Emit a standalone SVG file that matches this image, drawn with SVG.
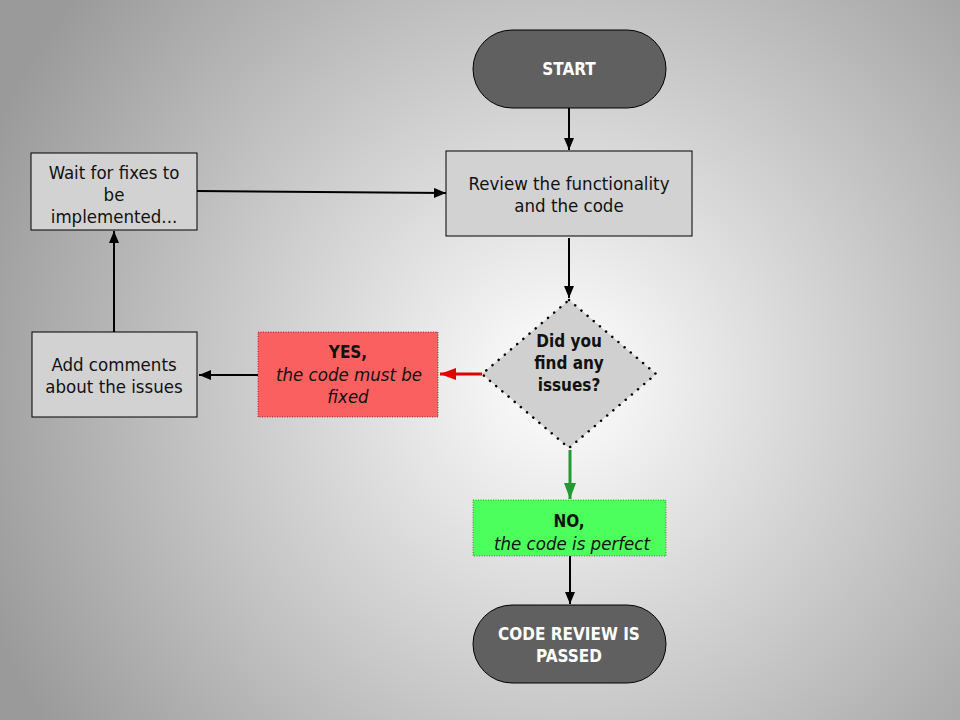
<svg xmlns="http://www.w3.org/2000/svg" width="960" height="720" viewBox="0 0 960 720">
<defs>
<radialGradient id="bg" cx="560" cy="380" r="620" gradientUnits="userSpaceOnUse">
<stop offset="0" stop-color="#ffffff"/>
<stop offset="1" stop-color="#9a9a9a"/>
</radialGradient>
<marker id="ah" viewBox="0 0 12 10" refX="12" refY="5" markerWidth="12" markerHeight="10" markerUnits="userSpaceOnUse" orient="auto"><path d="M0,0 L12,5 L0,10 z" fill="#000"/></marker>
<marker id="ahr" viewBox="0 0 16 12" refX="16" refY="6" markerWidth="16" markerHeight="12" markerUnits="userSpaceOnUse" orient="auto"><path d="M0,0 L16,6 L0,12 z" fill="#e00000"/></marker>
<marker id="ahg" viewBox="0 0 16 12" refX="16" refY="6" markerWidth="16" markerHeight="12" markerUnits="userSpaceOnUse" orient="auto"><path d="M0,0 L16,6 L0,12 z" fill="#229933"/></marker>
</defs>
<style>
text{font-family:"DejaVu Sans Condensed","DejaVu Sans",sans-serif;font-size:18.5px;text-anchor:middle;fill:#111}
.w{fill:#fff;font-weight:bold;font-size:17px}
.b{font-weight:bold;font-size:17px}
.i{font-style:italic}
.term{fill:#606060;stroke:#000;stroke-width:1}
.box{fill:#d2d2d2;stroke:#000;stroke-width:1}
.c{stroke:#000;stroke-width:2;fill:none}
</style>
<rect width="960" height="720" fill="url(#bg)"/>
<g id="connectors">
<line class="c" x1="569" y1="108" x2="569" y2="150" marker-end="url(#ah)"/>
<line class="c" x1="569" y1="238" x2="569" y2="298" marker-end="url(#ah)"/>
<line x1="482" y1="374" x2="440" y2="374" stroke="#e00000" stroke-width="3" marker-end="url(#ahr)"/>
<line class="c" x1="258" y1="375" x2="199" y2="375" marker-end="url(#ah)"/>
<line class="c" x1="114" y1="332" x2="114" y2="231" marker-end="url(#ah)"/>
<line class="c" x1="197" y1="191" x2="446" y2="193" marker-end="url(#ah)"/>
<line x1="570" y1="450" x2="570" y2="499" stroke="#229933" stroke-width="3" marker-end="url(#ahg)"/>
<line class="c" x1="570" y1="556" x2="570" y2="604" marker-end="url(#ah)"/>
</g>
<g id="start">
<rect class="term" x="473" y="30" width="193" height="78" rx="39"/>
<text class="w" x="569" y="75">START</text>
</g>
<g id="review">
<rect class="box" x="446" y="151" width="246" height="85"/>
<text x="569" y="190">Review the functionality</text>
<text x="569" y="212">and the code</text>
</g>
<g id="decision">
<polygon points="569,300 656,374 569,448 482,374" fill="#d0d0d0" stroke="#000" stroke-width="2.5" stroke-dasharray="0.1 8" stroke-linecap="round"/>
<text class="b" x="569" y="347">Did you</text>
<text class="b" x="569" y="369">find any</text>
<text class="b" x="569" y="391">issues?</text>
</g>
<g id="yes">
<rect x="258" y="332" width="180" height="85" fill="#fa6060" stroke="#333" stroke-width="0.8" stroke-dasharray="1 1.5"/>
<text class="b" x="348" y="358">YES,</text>
<text class="i" x="349" y="381">the code must be</text>
<text class="i" x="348" y="403">fixed</text>
</g>
<g id="comments">
<rect class="box" x="32" y="332" width="165" height="85"/>
<text x="114" y="371">Add comments</text>
<text x="114" y="393">about the issues</text>
</g>
<g id="wait">
<rect class="box" x="31" y="153" width="166" height="77"/>
<text x="114" y="179">Wait for fixes to</text>
<text x="114" y="201">be</text>
<text x="114" y="223">implemented...</text>
</g>
<g id="no">
<rect x="473" y="500" width="193" height="56" fill="#4cff5c" stroke="#2a7a2a" stroke-width="0.8" stroke-dasharray="1 1.5"/>
<text class="b" x="569" y="527">NO,</text>
<text class="i" x="572" y="550">the code is perfect</text>
</g>
<g id="end">
<rect class="term" x="473" y="605" width="193" height="78" rx="39"/>
<text class="w" x="569" y="640">CODE REVIEW IS</text>
<text class="w" x="569" y="662">PASSED</text>
</g>
</svg>
